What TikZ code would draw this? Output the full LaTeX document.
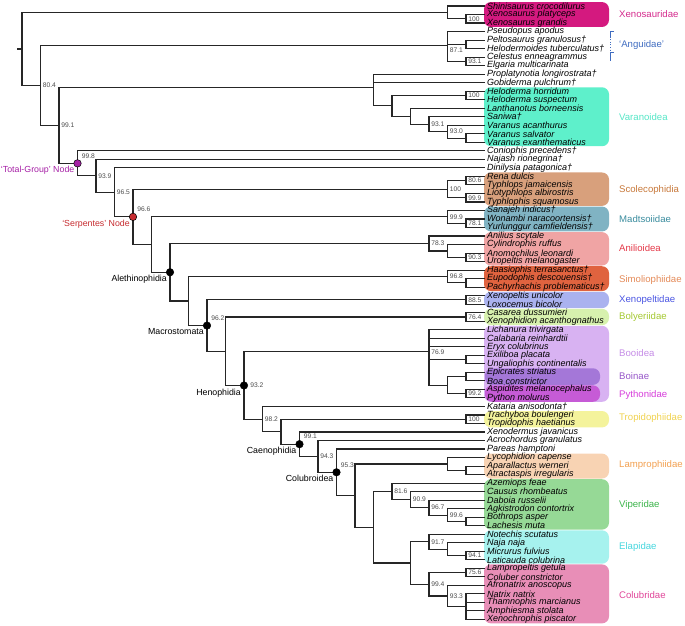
\documentclass[tikz,border=0pt]{standalone}
\usepackage{fontspec}
\setmainfont{Liberation Sans}
\definecolor{xenoBox}{HTML}{D4197F}
\definecolor{xenoText}{HTML}{D42A8C}
\definecolor{anguText}{HTML}{3F6CC0}
\definecolor{varaBox}{HTML}{5EF0CB}
\definecolor{varaText}{HTML}{55E6C6}
\definecolor{scolBox}{HTML}{D8A07C}
\definecolor{scolText}{HTML}{C7783A}
\definecolor{madtBox}{HTML}{80B3C3}
\definecolor{madtText}{HTML}{3A8C9E}
\definecolor{anilBox}{HTML}{F0A4A4}
\definecolor{anilText}{HTML}{E43848}
\definecolor{simoBox}{HTML}{E0633F}
\definecolor{simoText}{HTML}{E48A58}
\definecolor{xpelBox}{HTML}{AAB2EF}
\definecolor{xpelText}{HTML}{4A55E2}
\definecolor{bolyBox}{HTML}{D7F1AE}
\definecolor{bolyText}{HTML}{A4C830}
\definecolor{booiBox}{HTML}{D8B2F2}
\definecolor{booiText}{HTML}{C58CE6}
\definecolor{boinBox}{HTML}{A477D8}
\definecolor{boinText}{HTML}{9656C8}
\definecolor{pythBox}{HTML}{C65BD6}
\definecolor{pythText}{HTML}{D63CDA}
\definecolor{tropBox}{HTML}{F4F39C}
\definecolor{tropText}{HTML}{F0D250}
\definecolor{lampBox}{HTML}{F8D3B3}
\definecolor{lampText}{HTML}{F2A050}
\definecolor{vipeBox}{HTML}{96D996}
\definecolor{vipeText}{HTML}{3CB44B}
\definecolor{elapBox}{HTML}{A6F2EE}
\definecolor{elapText}{HTML}{46D6DE}
\definecolor{coluBox}{HTML}{E88EB7}
\definecolor{coluText}{HTML}{E04699}
\definecolor{tgPurple}{HTML}{A51FA5}
\definecolor{serpRed}{HTML}{C62B2F}
\begin{document}
\begin{tikzpicture}[x=1pt,y=-8.52pt]
	\tikzset{branch/.style={draw=black!85,line width=1.1pt}}
	\tikzset{tip/.style={anchor=west,inner xsep=2.5pt,inner ysep=0pt,font=\fontsize{9}{9}\selectfont\itshape}}
	\tikzset{support/.style={anchor=west,inner sep=0.6pt,xshift=1.5pt,font=\fontsize{6.7}{7}\selectfont,text=black!70}}
	\tikzset{dotup/.style={support,xshift=2pt,yshift=7.5pt}}
	\tikzset{dot/.style={circle,draw=black,line width=0.5pt,fill=black,inner sep=0pt,minimum size=7.5pt}}
	\tikzset{cladename/.style={anchor=north east,inner sep=0pt,xshift=-3pt,yshift=-3pt,font=\fontsize{8.8}{9}\selectfont}}
	\tikzset{family/.style={anchor=west,inner sep=0pt,font=\fontsize{9.6}{10}\selectfont}}
	\tikzset{cbox/.style={rounded corners=7pt}}
	\useasboundingbox (0,0.296) rectangle (685,73.77);
	\foreach \c/\a/\b in {xenoBox/1/3, varaBox/11/17, scolBox/21/24, madtBox/25/27, anilBox/28/31, simoBox/32/34, xpelBox/35/36, bolyBox/37/38, booiBox/39/47, tropBox/49/50, lampBox/54/56, vipeBox/57/62, elapBox/63/66, coluBox/67/73}
		\fill[cbox,fill=\c] (484,\a-0.46) rectangle (609,\b+0.46);
	\fill[cbox,fill=boinBox] (485,43.52) rectangle (600,45.47);
	\fill[cbox,fill=pythBox] (485,45.53) rectangle (600,47.45);
	\foreach \name [count=\i] in {Shinisaurus crocodilurus, Xenosaurus platyceps, Xenosaurus grandis, Pseudopus apodus, Peltosaurus granulosus†, Helodermoides tuberculatus†, Celestus enneagrammus, Elgaria multicarinata, Proplatynotia longirostrata†, Gobiderma pulchrum†, Heloderma horridum, Heloderma suspectum, Lanthanotus borneensis, Saniwa†, Varanus acanthurus, Varanus salvator, Varanus exanthematicus, Coniophis precedens†, Najash rionegrina†, Dinilysia patagonica†, Rena dulcis, Typhlops jamaicensis, Liotyphlops albirostris, Typhlophis squamosus, Sanajeh indicus†, Wonambi naracoortensis†, Yurlunggur camfieldensis†, Anilius scytale, Cylindrophis ruffus, Anomochilus leonardi, Uropeltis melanogaster, Haasiophis terrasanctus†, Eupodophis descouensis†, Pachyrhachis problematicus†, Xenopeltis unicolor, Loxocemus bicolor, Casarea dussumieri, Xenophidion acanthognathus, Lichanura trivirgata, Calabaria reinhardtii, Eryx colubrinus, Exiliboa placata, Ungaliophis continentalis, Epicrates striatus, Boa constrictor, Aspidites melanocephalus, Python molurus, Kataria anisodonta†, Trachyboa boulengeri, Tropidophis haetianus, Xenodermus javanicus, Acrochordus granulatus, Pareas hamptoni, Lycophidion capense, Aparallactus werneri, Atractaspis irregularis, Azemiops feae, Causus rhombeatus, Daboia russelii, Agkistrodon contortrix, Bothrops asper, Lachesis muta, Notechis scutatus, Naja naja, Micrurus fulvius, Laticauda colubrina, Lampropeltis getula, Coluber constrictor, Afronatrix anoscopus, Natrix natrix, Thamnophis marcianus, Amphiesma stolata, Xenochrophis piscator}
		\node[tip] (t\i) at (484.5,\i) {\name};
	\coordinate (stub) at (17,6.05);
	\coordinate (root) at (22,6.05);
	\coordinate (xs) at (447.5,1.75);
	\coordinate (xs2) at (466,2.5);
	\coordinate (n804) at (40.5,10.34);
	\coordinate (an) at (447.5,5.667);
	\coordinate (an1) at (466,5.5);
	\coordinate (an2) at (466,7.5);
	\coordinate (n991) at (59,15.02);
	\coordinate (pl) at (373.5,10.573);
	\coordinate (va) at (392,12.719);
	\coordinate (va1) at (466,11.5);
	\coordinate (va2) at (410.5,13.9375);
	\coordinate (va3) at (429,14.875);
	\coordinate (va4) at (447.5,15.75);
	\coordinate (va5) at (466,16.5);
	\coordinate (tg) at (77.5,19.47);
	\coordinate (n939) at (96,20.94);
	\coordinate (n965) at (114.5,22.875);
	\coordinate (serp) at (133,25.75);
	\coordinate (sc) at (447.5,22.5);
	\coordinate (sc1) at (466,21.5);
	\coordinate (sc2) at (466,23.5);
	\coordinate (n152) at (151.5,29);
	\coordinate (ma) at (447.5,25.75);
	\coordinate (ma1) at (466,26.5);
	\coordinate (aleth) at (170,32.25);
	\coordinate (ai) at (429,28.875);
	\coordinate (ai1) at (447.5,29.75);
	\coordinate (ai2) at (466,30.5);
	\coordinate (n188) at (188.5,35.63);
	\coordinate (si) at (447.5,32.75);
	\coordinate (si1) at (466,33.5);
	\coordinate (macro) at (207,38.51);
	\coordinate (xp) at (466,35.5);
	\coordinate (n225) at (225.5,41.52);
	\coordinate (bo) at (466,37.5);
	\coordinate (hen) at (244,45.54);
	\coordinate (bd) at (429,41.6);
	\coordinate (bd1) at (466,42.5);
	\coordinate (bd2) at (447.5,45.5);
	\coordinate (boi) at (466,44.5);
	\coordinate (py) at (466,46.5);
	\coordinate (n98) at (262.5,49.48);
	\coordinate (n281) at (281,50.97);
	\coordinate (tr) at (466,49.5);
	\coordinate (caen) at (299.5,52.43);
	\coordinate (n943) at (318,53.87);
	\coordinate (colu) at (336.5,55.73);
	\coordinate (lv) at (355,58.46);
	\coordinate (la) at (447.5,54.75);
	\coordinate (la1) at (466,55.5);
	\coordinate (ve) at (373.5,62.17);
	\coordinate (vi) at (392,57.97);
	\coordinate (vi1) at (410.5,58.94);
	\coordinate (vi2) at (429,59.875);
	\coordinate (vi3) at (447.5,60.75);
	\coordinate (vi4) at (466,61.5);
	\coordinate (ec) at (410.5,66.375);
	\coordinate (el) at (429,63.875);
	\coordinate (el1) at (447.5,64.75);
	\coordinate (el2) at (466,65.5);
	\coordinate (co) at (429,68.875);
	\coordinate (co1) at (466,67.5);
	\coordinate (co2) at (447.5,70.25);
	\coordinate (co3) at (466,71.5);
	\draw[branch] (stub) -- (root);
	\foreach \p/\c in {root/xs, root/n804, xs/t1, xs/xs2, xs2/t2, xs2/t3,
		n804/an, n804/n991, an/t4, an/an1, an/an2, an1/t5, an1/t6, an2/t7, an2/t8,
		n991/pl, n991/tg, pl/t9, pl/t10, pl/va, va/va1, va/va2, va1/t11, va1/t12, va2/t13, va2/va3,
		va3/t14, va3/va4, va4/t15, va4/va5, va5/t16, va5/t17,
		tg/t18, tg/n939, n939/t19, n939/n965, n965/t20, n965/serp,
		serp/sc, serp/n152, sc/sc1, sc/sc2, sc1/t21, sc1/t22, sc2/t23, sc2/t24,
		n152/ma, n152/aleth, ma/t25, ma/ma1, ma1/t26, ma1/t27,
		aleth/ai, aleth/n188, ai/t28, ai/ai1, ai1/t29, ai1/ai2, ai2/t30, ai2/t31,
		n188/si, n188/macro, si/t32, si/si1, si1/t33, si1/t34,
		macro/xp, macro/n225, xp/t35, xp/t36, n225/bo, n225/hen, bo/t37, bo/t38,
		hen/bd, hen/n98, bd/t39, bd/t40, bd/t41, bd/bd1, bd/bd2, bd1/t42, bd1/t43,
		bd2/boi, bd2/py, boi/t44, boi/t45, py/t46, py/t47,
		n98/t48, n98/n281, n281/tr, n281/caen, tr/t49, tr/t50,
		caen/t51, caen/n943, n943/t52, n943/colu, colu/t53, colu/lv,
		lv/la, lv/ve, la/t54, la/la1, la1/t55, la1/t56,
		ve/vi, ve/ec, vi/t57, vi/vi1, vi1/t58, vi1/vi2, vi2/t59, vi2/vi3, vi3/t60, vi3/vi4, vi4/t61, vi4/t62,
		ec/el, ec/co, el/t63, el/el1, el1/t64, el1/el2, el2/t65, el2/t66,
		co/co1, co/co2, co1/t67, co1/t68, co2/t69, co2/co3, co3/t70, co3/t71, co3/t72, co3/t73}
		\draw[branch] (\p) |- (\c);
	\foreach \n/\v [count=\k] in {xs2/100, n804/80.4, n991/99.1, an2/93.1, va1/100, va3/93.1, va4/93.0,
		n939/93.9, n965/96.5, sc/100, sc1/80.6, sc2/99.9, ma/99.9, ma1/78.1, ai/78.3, ai2/90.3,
		si/96.8, xp/88.5, bo/76.4, bd/76.9, py/99.2, n98/98.2, tr/100, n943/94.3,
		vi/81.6, vi1/90.9, vi2/96.7, vi3/99.6, el/91.7, el2/94.1, co/99.4, co1/75.6, co2/93.3}
		\node[support] (s\k) at (\n) {\v};
	\node[support,yshift=-4pt] (san) at (an) {87.1};
	\node[dotup] (stg) at (tg) {99.8};
	\node[dotup] (sserp) at (serp) {96.6};
	\node[dotup] (smacro) at (macro) {96.2};
	\node[dotup] (scaen) at (caen) {99.1};
	\node[dotup] (scolu) at (colu) {95.3};
	\node[support,xshift=4pt] (shen) at (hen) {93.2};
	\node[dot,fill=tgPurple] (dtg) at (tg) {};
	\node[dot,fill=serpRed] (dserp) at (serp) {};
	\foreach \n in {aleth, macro, hen, caen, colu}
		\node[dot] (d\n) at (\n) {};
	\node[cladename,text=tgPurple] (ltg) at (tg) {`Total-Group' Node};
	\node[cladename,text=serpRed] (lserp) at (serp) {`Serpentes' Node};
	\node[cladename] (laleth) at (aleth) {Alethinophidia};
	\node[cladename] (lmacro) at (macro) {Macrostomata};
	\node[cladename] (lhen) at (hen) {Henophidia};
	\node[cladename] (lcaen) at (caen) {Caenophidia};
	\node[cladename] (lcolu) at (colu) {Colubroidea};
	\draw[anguText,line width=0.8pt] (614,3.93) -- (610.5,3.93) -- (610.5,4.6);
	\draw[anguText,line width=0.6pt,dotted] (610.5,4.6) -- (610.5,6.4);
	\draw[anguText,line width=0.8pt] (614,6.43) -- (610.5,6.43) -- (610.5,7.45);
	\node[family,text=xenoText] (fxeno) at (619,2) {Xenosauridae};
	\node[family,text=anguText] (fangu) at (619,5.58) {`Anguidae'};
	\node[family,text=varaText] (fvara) at (619,14) {Varanoidea};
	\node[family,text=scolText] (fscol) at (619,22.6) {Scolecophidia};
	\node[family,text=madtText] (fmadt) at (619,25.95) {Madtsoiidae};
	\node[family,text=anilText] (fanil) at (619,29.45) {Anilioidea};
	\node[family,text=simoText] (fsimo) at (619,33.15) {Simoliophiidae};
	\node[family,text=xpelText] (fxpel) at (619,35.5) {Xenopeltidae};
	\node[family,text=bolyText] (fboly) at (619,37.55) {Bolyeriidae};
	\node[family,text=booiText] (fbooi) at (619,41.75) {Booidea};
	\node[family,text=boinText] (fboin) at (619,44.45) {Boinae};
	\node[family,text=pythText] (fpyth) at (619,46.65) {Pythonidae};
	\node[family,text=tropText] (ftrop) at (619,49.3) {Tropidophiidae};
	\node[family,text=lampText] (flamp) at (619,54.9) {Lamprophiidae};
	\node[family,text=vipeText] (fvipe) at (619,59.55) {Viperidae};
	\node[family,text=elapText] (felap) at (619,64.45) {Elapidae};
	\node[family,text=coluText] (fcolu) at (619,70.1) {Colubridae};
\end{tikzpicture}
\end{document}
